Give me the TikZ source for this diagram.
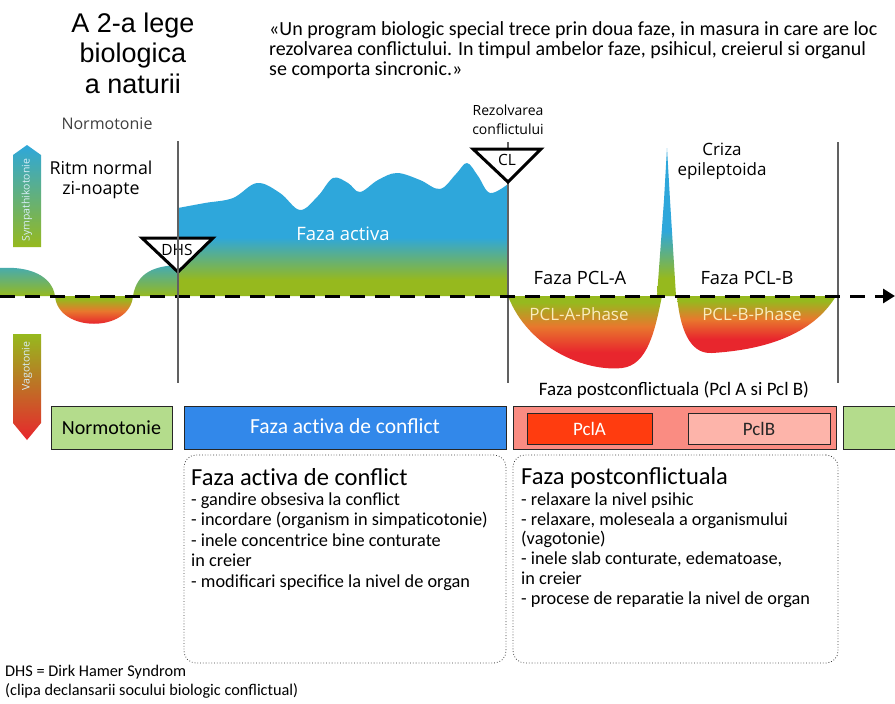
\documentclass[tikz,border=0pt]{standalone}
\usepackage{fontspec}
\setmainfont{Carlito}
\newfontfamily\opsans{Open Sans}
\newfontfamily\arialf{Liberation Sans}
\newcommand\tibrk{t\kern0pt i}
\usetikzlibrary{arrows.meta}
\definecolor{sblue}{RGB}{46,167,219}
\definecolor{vgreen}{RGB}{150,185,30}
\definecolor{vorange}{RGB}{232,120,45}
\definecolor{vred}{RGB}{232,38,45}
\definecolor{normgreen}{RGB}{180,220,140}
\definecolor{activblue}{RGB}{50,136,234}
\definecolor{pclsalmon}{RGB}{250,140,130}
\definecolor{pclAcol}{RGB}{255,60,15}
\definecolor{pclBcol}{RGB}{253,180,170}
\definecolor{phasetxt}{RGB}{250,236,190}
\definecolor{vline}{gray}{0.38}
\pgfdeclareverticalshading{sympash}{100bp}{color(0bp)=(vgreen); color(25bp)=(vgreen); color(31bp)=(vgreen); color(47bp)=(sblue); color(100bp)=(sblue)}
\pgfdeclareverticalshading{vagosh}{100bp}{color(0bp)=(vred); color(25bp)=(vred); color(38bp)=(vred); color(55bp)=(vorange); color(71bp)=(vgreen); color(100bp)=(vgreen)}
\tikzset{
  titl/.style={font=\arialf\fontsize{27}{30.5}\selectfont,align=center},
  quot/.style={font=\fontsize{20}{20}\selectfont,align=left,anchor=west,inner sep=0pt},
  osl/.style={font=\opsans\fontsize{17}{20}\selectfont,align=center,inner sep=0pt},
  oss/.style={font=\opsans\fontsize{14}{19}\selectfont,align=center,inner sep=0pt},
  sidetxt/.style={font=\opsans\fontsize{10.5}{12}\selectfont,text=white!82!sblue,rotate=90,inner sep=0pt},
  trig/.style={draw=black,line width=3pt,fill=white,line join=miter},
  vsep/.style={draw=vline,line width=1.6pt},
  axisline/.style={line width=3pt,dash pattern=on 15pt off 10pt,-{Triangle[length=12pt,width=14pt]}},
  barbox/.style={draw=black!85,line width=0.9pt,minimum height=43pt,inner sep=0pt,font=\fontsize{20}{22}\selectfont},
  subbox/.style={draw=black!85,line width=0.9pt,minimum height=31pt,inner sep=0pt,font=\fontsize{19}{20}\selectfont},
  notebox/.style={draw=black!75,dotted,line width=0.8pt,rounded corners=12pt,minimum height=208pt,inner sep=0pt},
  nhead/.style={font=\fontsize{24.5}{26}\selectfont,anchor=base west,inner sep=0pt},
  nline/.style={font=\fontsize{18.3}{20}\selectfont,anchor=base west,inner sep=0pt},
  foot/.style={font=\fontsize{16.3}{18}\selectfont,anchor=base west,inner sep=0pt},
}

\begin{document}
\begin{tikzpicture}[x=1pt,y=-1pt]
  \useasboundingbox[fill=white] (0,0) rectangle (895,704);
  % titles
  \node[titl] (title) at (133,53) {A 2-a lege\\biologica\\a naturii};
  \node[quot] (quote) at (269,50) {«Un program biologic special trece prin doua faze, in masura in care are loc\\rezolvarea conflictului. In \tibrk mpul ambelor faze, psihicul, creierul si organul\\se comporta sincronic.»};
  \node[osl,text=black!75,font=\opsans\fontsize{16}{20}\selectfont] (normtop) at (107,124) {Normotonie};
  \node[osl,font=\opsans\fontsize{17.8}{20}\selectfont] (ritm) at (101,180) {Ritm normal\\zi-noapte};
  \node[oss] (rezolv) at (508,120) {Rezolvarea\\conflictului};
  \node[osl] (criza) at (722,161) {Criza\\epileptoida};
  % side arrows
  \shade[top color=sblue,middle color=sblue!55!vgreen,bottom color=vgreen] (13,247) -- (13,155) -- (27,145) -- (41,155) -- (41,247) -- cycle;
  \shade[top color=vgreen,middle color=vorange,bottom color=vred] (13,334) -- (41,334) -- (41,423) -- (27,440) -- (13,423) -- cycle;
  \node[sidetxt] (sympa) at (27,200) {Sympathikotonie};
  \node[sidetxt] (vago) at (27,366) {Vagotonie};
  % curve
  \shade[top color=sblue!80!vgreen,bottom color=vgreen] (0,296) -- (0,268) .. controls (30,266) and (52,276) .. (55,296) -- cycle;
  \shade[shading=vagosh] (55,296) .. controls (58,333) and (130,333) .. (133,296) -- cycle;
  \shade[top color=sblue!80!vgreen,bottom color=vgreen] (133,296) .. controls (137,272) and (155,266) .. (178,265) -- (178,296) -- cycle;
  \shade[shading=sympash] (178,296) -- plot[smooth,tension=0.6] coordinates {(178,208) (205,203) (233,198) (257,183) (280,193) (300,210) (318,196) (333,178) (348,183) (360,192) (378,180) (397,173) (420,180) (440,189) (456,174) (467,163) (478,176) (490,193) (508,184)} -- (508,296) -- cycle;
  \shade[shading=vagosh] (508,296) .. controls (528,348) and (585,372) .. (622,368) .. controls (648,365) and (655,330) .. (662,296) -- cycle;
  \shade[shading=sympash] (657,296) -- (664,200) -- (667,148) -- (670,200) -- (676,296) -- cycle;
  \shade[shading=vagosh] (677,296) .. controls (681,338) and (694,354) .. (712,353) .. controls (762,350) and (812,336) .. (836,296) -- cycle;
  \node[osl,text=white,font=\opsans\fontsize{18.5}{20}\selectfont] (activlbl) at (343,234) {Faza activa};
  \node[osl,font=\opsans\fontsize{18.3}{20}\selectfont] (pclAlbl) at (580,278) {Faza PCL-A};
  \node[osl,font=\opsans\fontsize{18.3}{20}\selectfont] (pclBlbl) at (747,278) {Faza PCL-B};
  \node[osl,text=phasetxt,font=\opsans\fontsize{17}{20}\selectfont] (pclAph) at (579,314) {PCL-A-Phase};
  \node[osl,text=phasetxt,font=\opsans\fontsize{17}{20}\selectfont] (pclBph) at (752,314) {PCL-B-Phase};
  % separators
  \coordinate (s1t) at (178,141); \coordinate (s1b) at (178,383);
  \coordinate (s2t) at (508,142); \coordinate (s2b) at (508,383);
  \coordinate (s3t) at (838,142); \coordinate (s3b) at (838,383);
  \draw[vsep] (s2t) -- (s2b);
  \draw[vsep] (s3t) -- (s3b);
  \coordinate (axL) at (0,296); \coordinate (axR) at (895,296);
  \draw[axisline] (axL) -- (axR);
  % markers
  \draw[trig] (473,149) -- (541,149) -- (508,182) -- cycle;
  \node[oss,font=\opsans\fontsize{15.5}{19}\selectfont] (cl) at (507,160) {CL};
  \draw[trig] (142,238) -- (213,238) -- (178,272) -- cycle;
  \node[oss,font=\opsans\fontsize{15.5}{19}\selectfont] (dhs) at (177,250) {DHS};
  \draw[vsep] (s1t) -- (s1b);
  % phase bars
  \node[font=\fontsize{19}{20}\selectfont] (postlbl) at (674,390) {Faza postconflictuala (Pcl A si Pcl B)};
  \node[barbox,fill=normgreen,minimum width=121pt] (bnorm) at (111.5,428) {Normotonie};
  \node[barbox,fill=activblue,minimum width=322pt,text=white,font=\fontsize{21.5}{22}\selectfont] (bactiv) at (345,428) {\raisebox{3pt}{Faza ac\tibrk va de conflict}};
  \node[barbox,fill=pclsalmon,minimum width=323pt] (bpost) at (674.5,428) {};
  \node[barbox,fill=normgreen,minimum width=60pt] (bnext) at (873,428) {};
  \node[subbox,fill=pclAcol,minimum width=125pt,text=white] (bpclA) at (589.5,428.5) {PclA};
  \node[subbox,fill=pclBcol,minimum width=142pt,text=black!85] (bpclB) at (759,428.5) {PclB};
  % notes
  \node[notebox,minimum width=322pt] (nactiv) at (345,559) {};
  \node[notebox,minimum width=325pt] (npost) at (675.5,559) {};
  \node[nhead] (ha) at (191,485) {Faza ac\tibrk va de conflict};
  \node[nline] (la1) at (191,505) {- gandire obsesiva la conflict};
  \node[nline] (la2) at (191,525.5) {- incordare (organism in simpa\tibrk cotonie)};
  \node[nline] (la3) at (191,546) {- inele concentrice bine conturate};
  \node[nline] (la4) at (191,566.5) {in creier};
  \node[nline] (la5) at (191,587) {- modificari specifice la nivel de organ};
  \node[nhead] (hp) at (521,484) {Faza postconflictuala};
  \node[nline] (lp1) at (521,505) {- relaxare la nivel psihic};
  \node[nline] (lp2) at (521,525) {- relaxare, moleseala a organismului};
  \node[nline] (lp3) at (521,544.5) {(vagotonie)};
  \node[nline] (lp4) at (521,564.5) {- inele slab conturate, edematoase,};
  \node[nline] (lp5) at (521,584) {in creier};
  \node[nline] (lp6) at (521,604) {- procese de repara\tibrk e la nivel de organ};
  % footnote
  \node[foot] (f1) at (5,676) {DHS = Dirk Hamer Syndrom};
  \node[foot] (f2) at (5,695) {(clipa declansarii socului biologic conflictual)};
\end{tikzpicture}
\end{document}
